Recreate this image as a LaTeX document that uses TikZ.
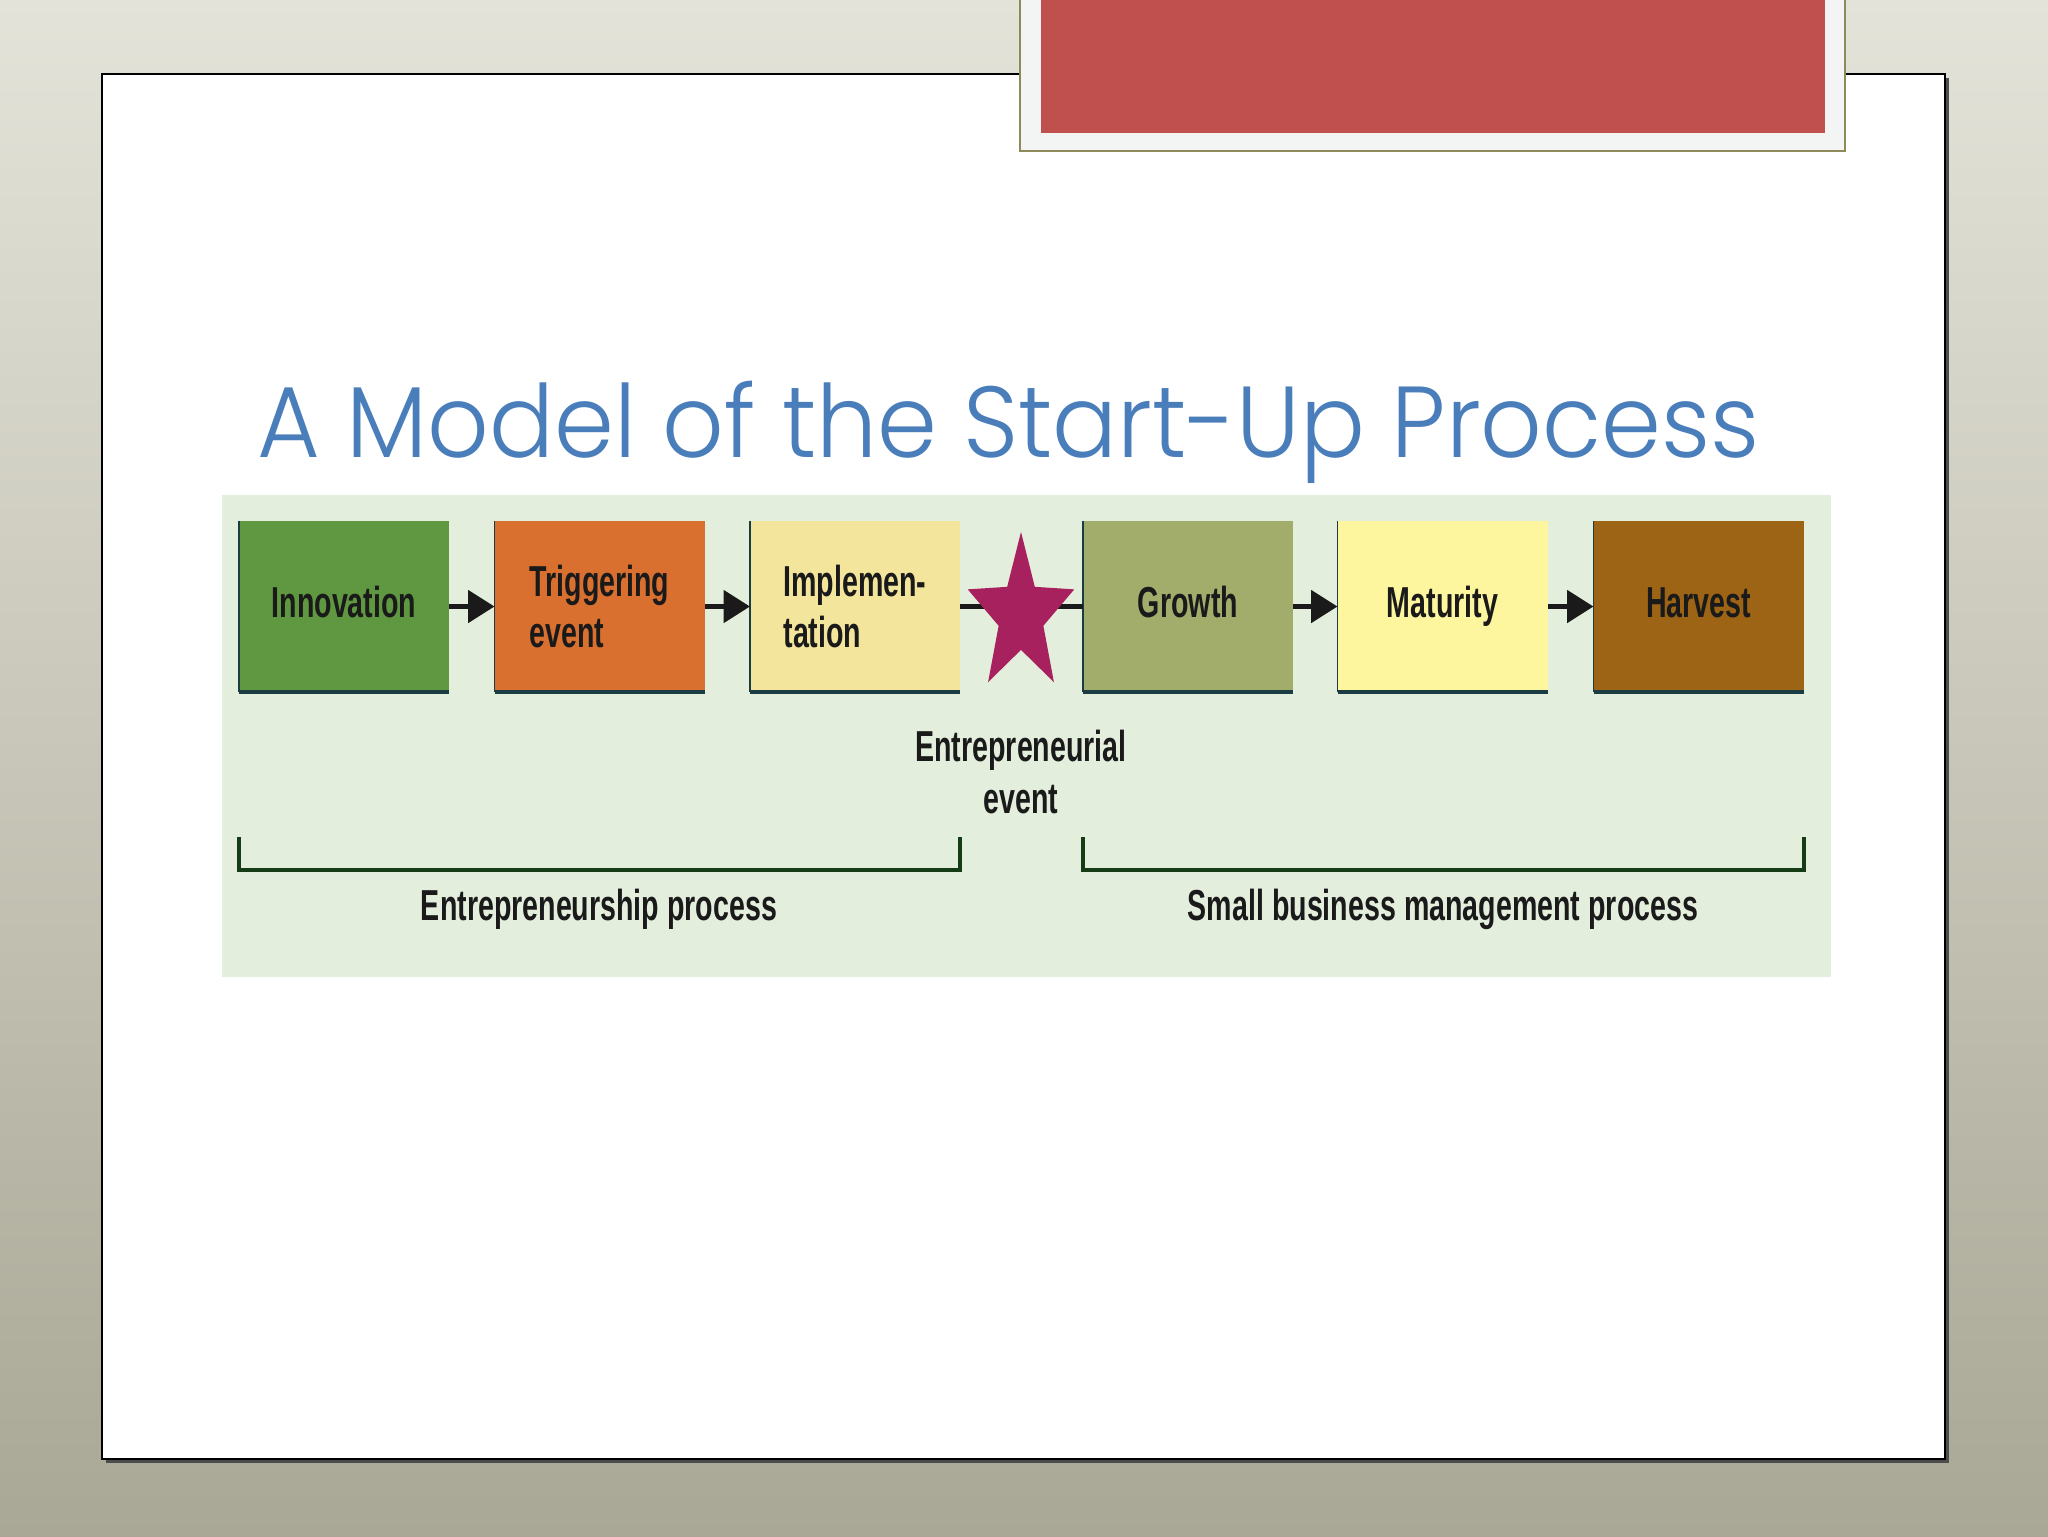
\documentclass[tikz,border=0pt]{standalone}
\usepackage{fontspec}
\setmainfont{Liberation Sans}
\newfontfamily\titlefont{Poppins Light}
\newfontfamily\cond[FakeStretch=0.66]{Liberation Sans}
\usetikzlibrary{arrows.meta}
\definecolor{bgtop}{HTML}{E4E3D9}
\definecolor{bgbot}{HTML}{A9A896}
\definecolor{redfill}{HTML}{C0504D}
\definecolor{framefill}{HTML}{F3F4F4}
\definecolor{frameedge}{HTML}{8E8B5B}
\definecolor{titleblue}{HTML}{4A7EBB}
\definecolor{panel}{HTML}{E3EEDD}
\definecolor{cInno}{HTML}{5F9840}
\definecolor{cTrig}{HTML}{DA7030}
\definecolor{cImpl}{HTML}{F4E59C}
\definecolor{cGrow}{HTML}{A2AD6C}
\definecolor{cMatu}{HTML}{FEF69E}
\definecolor{cHarv}{HTML}{9C6414}
\definecolor{cStar}{HTML}{A8215F}
\definecolor{edgeteal}{HTML}{1C3C44}
\definecolor{ink}{HTML}{1A1A1A}
\begin{document}
\begin{tikzpicture}[x=0.36pt,y=-0.36pt,
  stepbox/.style={minimum width=75.6pt,minimum height=61.6pt,inner sep=0pt,outer sep=0pt,
    align=left,text=ink,font=\cond\bfseries\fontsize{15.6}{18.7}\selectfont},
  oneline/.style={text height=11.6pt,text depth=3.4pt},
  lbl/.style={inner sep=0pt,align=center,text=ink,font=\cond\bfseries\fontsize{15.6}{18.7}\selectfont},
  flow/.style={draw=ink,line width=1.8pt,-{Triangle[length=9.5pt,width=11.5pt]}},
  plainflow/.style={draw=ink,line width=1.8pt},
  bracket/.style={draw=ink!85!green,line width=1.1pt}]
\useasboundingbox (0,0) rectangle (2048,1536);
% background
\shade[top color=bgtop,bottom color=bgbot] (0,0) rectangle (2048,1536);
% slide
\fill[black!70] (106,78) rectangle (1949,1463);
\filldraw[fill=white,draw=black,line width=0.6pt] (102,74) rectangle (1945,1459);
% red header frame
\filldraw[fill=framefill,draw=frameedge,line width=1pt] (1020,-5) rectangle (1845,151);
\fill[redfill] (1041,-5) rectangle (1825,133);
% title
\node[anchor=base west,inner sep=0pt,text=titleblue] (title) at (257,457)
  {\resizebox{540.7pt}{27.5pt}{\titlefont A Model of the Start-Up Process}};
% panel
\fill[panel] (222,495) rectangle (1831,977);
% boxes
\node[stepbox,oneline,fill=cInno] (b1) at (344,606.5) {Innovation};
\node[stepbox,fill=cTrig] (b2) at (599.5,606.5) {Triggering\\event};
\node[stepbox,fill=cImpl] (b3) at (855,606.5) {Implemen-\\tation};
\node[stepbox,oneline,fill=cGrow] (b4) at (1188,606.5) {Growth};
\node[stepbox,oneline,fill=cMatu] (b5) at (1442.5,606.5) {Maturity};
\node[stepbox,oneline,fill=cHarv] (b6) at (1698.5,606.5) {Harvest};
\foreach \b in {b1,b2,b3,b4,b5,b6}{
  \draw[edgeteal,line width=0.7pt] (\b.north west) -- (\b.south west);
  \draw[edgeteal,line width=1.3pt] (\b.south west) -- (\b.south east);}
% connectors
\coordinate (starc) at (1021,606.5);
\draw[flow] (b1) -- (b2);
\draw[flow] (b2) -- (b3);
\draw[plainflow] (b3) -- (starc);
\draw[plainflow] (starc) -- (b4);
\draw[flow] (b4) -- (b5);
\draw[flow] (b5) -- (b6);
% star
\fill[cStar,shift={(1021,615)},xscale=56,yscale=-83]
  (90:1) -- (126:0.42) -- (162:1) -- (198:0.42) -- (234:1) -- (270:0.42)
  -- (306:1) -- (342:0.42) -- (18:1) -- (54:0.42) -- cycle;
\node[lbl] (evt) at (1021,772) {Entrepreneurial\\event};
% brackets
\coordinate (l1) at (239,837); \coordinate (l2) at (960,837);
\coordinate (r1) at (1083,837); \coordinate (r2) at (1804,837);
\draw[bracket] (l1) -- (239,870) -- (960,870) -- (l2);
\draw[bracket] (r1) -- (1083,870) -- (1804,870) -- (r2);
\node[lbl] (ep) at (599,909) {Entrepreneurship process};
\node[lbl] (sb) at (1443,909) {Small business management process};
\end{tikzpicture}
\end{document}
